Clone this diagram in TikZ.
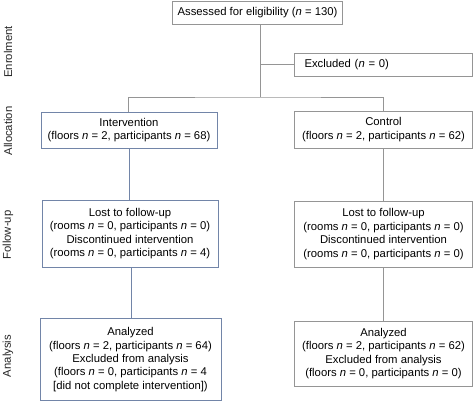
\documentclass[tikz,border=0pt]{standalone}
\usepackage{fontspec}
\setmainfont{Liberation Sans}
\definecolor{blueln}{HTML}{7285A8}
\definecolor{grayln}{HTML}{959595}
\begin{document}
\begin{tikzpicture}[x=1pt,y=-1pt,
  font=\fontsize{11.3}{13.4}\selectfont,
  box/.style={draw=grayln,line width=1pt,rectangle,align=center,inner sep=0pt},
  bbox/.style={box,draw=blueln},
  ln/.style={draw=grayln,line width=1pt},
  bln/.style={draw=blueln,line width=1pt},
  phase/.style={rotate=90,anchor=center,text=black!85}]
\useasboundingbox (0,0) rectangle (474,402);
\node[box,minimum width=170pt,minimum height=23pt] (assess) at (257.5,12.5) {Assessed for eligibility (\textit{n} = 130)};
\node[box,minimum width=178pt,minimum height=23pt,text width=158pt,align=left,inner xsep=10pt] (excl) at (383.5,64.5) {Excluded (\textit{n} = 0)};
\node[bbox,minimum width=176pt,minimum height=36pt] (int) at (129,130) {Intervention\\(floors \textit{n} = 2, participants \textit{n} = 68)};
\node[box,minimum width=178pt,minimum height=37pt] (ctl) at (383.5,129.5) {Control\\(floors \textit{n} = 2, participants \textit{n} = 62)};
\node[bbox,minimum width=176pt,minimum height=67pt] (fui) at (130,233.5) {Lost to follow-up\\(rooms \textit{n} = 0, participants \textit{n} = 0)\\Discontinued intervention\\(rooms \textit{n} = 0, participants \textit{n} = 4)};
\node[box,minimum width=178pt,minimum height=66pt] (fuc) at (383.5,234) {Lost to follow-up\\(rooms \textit{n} = 0, participants \textit{n} = 0)\\Discontinued intervention\\(rooms \textit{n} = 0, participants \textit{n} = 0)};
\node[bbox,minimum width=181pt,minimum height=82pt] (ani) at (130.5,359.5) {Analyzed\\(floors \textit{n} = 2, participants \textit{n} = 64)\\Excluded from analysis\\(floors \textit{n} = 0, participants \textit{n} = 4\\{[did not complete intervention])}};
\node[box,minimum width=178pt,minimum height=65pt] (anc) at (383.5,353.5) {Analyzed\\(floors \textit{n} = 2, participants \textit{n} = 62)\\Excluded from analysis\\(floors \textit{n} = 0, participants \textit{n} = 0)};
\coordinate (branch) at (260,97);
\draw[ln] (assess.south -| branch) -- (branch);
\draw[ln] (excl.west) -- (excl.west -| branch);
\draw[ln] (int.north -| 128,0) |- (branch) -| (ctl.north -| 383,0);
\draw[bln] (int.south) -- (fui.north -| int.south);
\draw[ln] (ctl.south -| 383,0) -- (fuc.north -| 383,0);
\draw[bln] (fui.south -| 131,0) -- (ani.north -| 131,0);
\draw[ln] (fuc.south -| 383,0) -- (anc.north -| 383,0);
\node[phase] (p1) at (8,52) {Enrolment};
\node[phase] (p2) at (8,131) {Allocation};
\node[phase] (p3) at (8,235) {Follow-up};
\node[phase] (p4) at (8,356) {Analysis};
\end{tikzpicture}
\end{document}
